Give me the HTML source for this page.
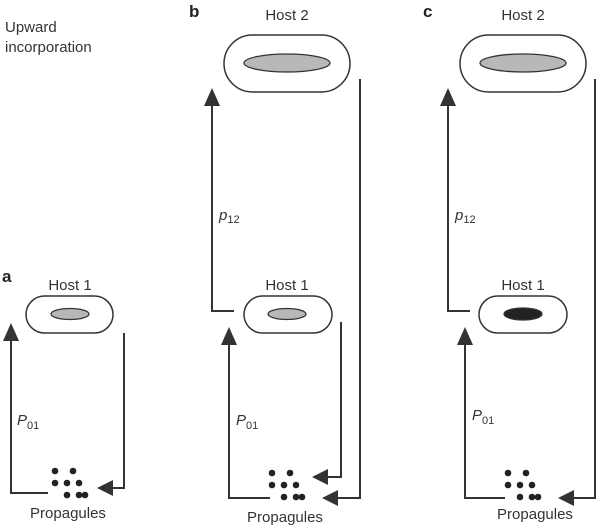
<!DOCTYPE html>
<html><head><meta charset="utf-8"><style>
html,body{margin:0;padding:0;background:#fff;}
svg{display:block;}
text{font-family:"Liberation Sans",Arial,sans-serif;fill:#333;}
</style></head><body>
<svg width="600" height="527" viewBox="0 0 600 527" xmlns="http://www.w3.org/2000/svg">
<defs>
<g id="dots" fill="#222">
<circle cx="0" cy="0" r="3.3"/><circle cx="18" cy="0" r="3.3"/>
<circle cx="0" cy="12" r="3.3"/><circle cx="12" cy="12" r="3.3"/><circle cx="24" cy="12" r="3.3"/>
<circle cx="12" cy="24" r="3.3"/><circle cx="24" cy="24" r="3.3"/><circle cx="30" cy="24" r="3.3"/>
</g>
</defs>
<text x="5" y="32" font-size="15" fill="#444">Upward</text>
<text x="5" y="52" font-size="15" fill="#444">incorporation</text>
<g stroke="#333" stroke-width="2" fill="none">
<!-- panel a -->
<rect x="26" y="296" width="87" height="37" rx="18.5" stroke-width="1.5"/>
<polyline points="48,493 11,493 11,340"/>
<polyline points="124,333 124,488 110,488"/>
<!-- panel b -->
<rect x="224" y="35" width="126" height="57" rx="28.5" stroke-width="1.5"/>
<rect x="244" y="296" width="88" height="37" rx="18.5" stroke-width="1.5"/>
<polyline points="234,311 212,311 212,104"/>
<polyline points="270,498 229,498 229,343"/>
<polyline points="341,322 341,477 326,477"/>
<polyline points="360,79 360,498 336,498"/>
<!-- panel c -->
<rect x="460" y="35" width="126" height="57" rx="28.5" stroke-width="1.5"/>
<rect x="479" y="296" width="88" height="37" rx="18.5" stroke-width="1.5"/>
<polyline points="470,311 448,311 448,104"/>
<polyline points="505,498 465,498 465,343"/>
<polyline points="595,79 595,498 572,498"/>
</g>
<g fill="#333">
<polygon points="11,323 3,341 19,341"/>
<polygon points="97,488 113,480 113,496"/>
<polygon points="212,88 204,106 220,106"/>
<polygon points="229,327 221,345 237,345"/>
<polygon points="312,477 328,469 328,485"/>
<polygon points="322,498 338,490 338,506"/>
<polygon points="448,88 440,106 456,106"/>
<polygon points="465,327 457,345 473,345"/>
<polygon points="558,498 574,490 574,506"/>
</g>
<g stroke="#333" stroke-width="1.3">
<ellipse cx="70" cy="314" rx="19" ry="5.5" fill="#b8b8b8"/>
<ellipse cx="287" cy="63" rx="43" ry="9" fill="#b8b8b8"/>
<ellipse cx="287" cy="314" rx="19" ry="5.5" fill="#b8b8b8"/>
<ellipse cx="523" cy="63" rx="43" ry="9" fill="#b8b8b8"/>
<ellipse cx="523" cy="314" rx="19" ry="6" fill="#222"/>
</g>
<use href="#dots" x="55" y="471"/>
<use href="#dots" x="272" y="473"/>
<use href="#dots" x="508" y="473"/>
<g font-size="15" text-anchor="middle">
<text x="70" y="290">Host 1</text>
<text x="287" y="20">Host 2</text>
<text x="287" y="290">Host 1</text>
<text x="523" y="20">Host 2</text>
<text x="523" y="290">Host 1</text>
<text x="68" y="518">Propagules</text>
<text x="285" y="522">Propagules</text>
<text x="535" y="519">Propagules</text>
</g>
<g font-weight="bold" font-size="17" fill="#222">
<text x="2" y="282" style="fill:#222">a</text>
<text x="189" y="17" style="fill:#222">b</text>
<text x="423" y="17" style="fill:#222">c</text>
</g>
<g font-size="15" font-style="italic">
<text x="17" y="425">P<tspan font-size="11" font-style="normal" dy="4">01</tspan></text>
<text x="236" y="425">P<tspan font-size="11" font-style="normal" dy="4">01</tspan></text>
<text x="472" y="420">P<tspan font-size="11" font-style="normal" dy="4">01</tspan></text>
<text x="219" y="220">p<tspan font-size="11" font-style="normal" dy="3">12</tspan></text>
<text x="455" y="220">p<tspan font-size="11" font-style="normal" dy="3">12</tspan></text>
</g>
</svg>
</body></html>
